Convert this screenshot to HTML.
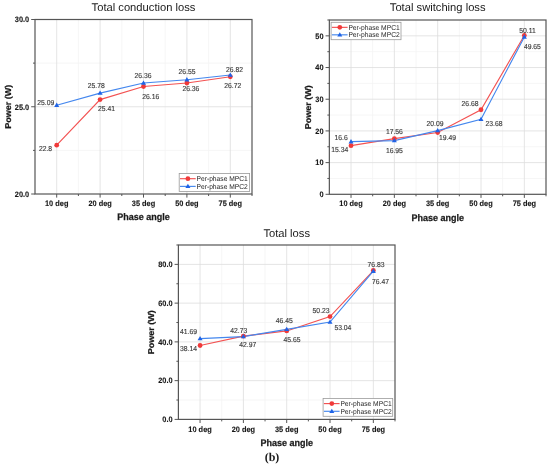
<!DOCTYPE html>
<html><head><meta charset="utf-8"><style>
html,body{margin:0;padding:0;background:#fff;}
body{width:550px;height:467px;overflow:hidden;}
svg{display:block;filter:blur(0.5px);}
text{font-family:"Liberation Sans", sans-serif;text-rendering:geometricPrecision;}
.tk{font-size:7.4px;font-weight:bold;fill:#1a1a1a;stroke:#1a1a1a;stroke-width:0.12px;}
.ti{font-size:11.2px;fill:#1a1a1a;}
.at{font-size:9px;font-weight:bold;fill:#1a1a1a;stroke:#1a1a1a;stroke-width:0.25px;}
.at2{font-size:8.5px;font-weight:bold;fill:#1a1a1a;stroke:#1a1a1a;stroke-width:0.25px;}
.dl{font-size:6.8px;fill:#383838;stroke:#383838;stroke-width:0.12px;}
.lg{font-size:6.7px;fill:#262626;}
.bb{font-family:"Liberation Serif", serif;font-size:12px;font-weight:bold;fill:#1a1a1a;}
</style></head><body>
<svg width="550" height="467" viewBox="0 0 550 467">
<rect width="550" height="467" fill="#fff"/>
<line x1="35" x2="252" y1="150.38" y2="150.38" stroke="#f4f4f4" stroke-width="0.8"/>
<line x1="35" x2="252" y1="63.12" y2="63.12" stroke="#f4f4f4" stroke-width="0.8"/>
<line x1="78.4" x2="78.4" y1="19.5" y2="194" stroke="#f4f4f4" stroke-width="0.8"/>
<line x1="121.8" x2="121.8" y1="19.5" y2="194" stroke="#f4f4f4" stroke-width="0.8"/>
<line x1="165.2" x2="165.2" y1="19.5" y2="194" stroke="#f4f4f4" stroke-width="0.8"/>
<line x1="208.6" x2="208.6" y1="19.5" y2="194" stroke="#f4f4f4" stroke-width="0.8"/>
<line x1="35" x2="252" y1="106.75" y2="106.75" stroke="#dddddd" stroke-width="0.8"/>
<line x1="56.7" x2="56.7" y1="19.5" y2="194" stroke="#dddddd" stroke-width="0.8"/>
<line x1="100.1" x2="100.1" y1="19.5" y2="194" stroke="#dddddd" stroke-width="0.8"/>
<line x1="143.5" x2="143.5" y1="19.5" y2="194" stroke="#dddddd" stroke-width="0.8"/>
<line x1="186.9" x2="186.9" y1="19.5" y2="194" stroke="#dddddd" stroke-width="0.8"/>
<line x1="230.3" x2="230.3" y1="19.5" y2="194" stroke="#dddddd" stroke-width="0.8"/>
<rect x="35" y="19.5" width="217" height="174.5" fill="none" stroke="#555555" stroke-width="1.2"/>
<line x1="31.2" x2="35" y1="194" y2="194" stroke="#555555" stroke-width="1"/>
<text x="29.2" y="196.6" text-anchor="end" class="tk" transform="matrix(1 0 0 1.06 0 -11.64)">20.0</text>
<line x1="31.2" x2="35" y1="106.75" y2="106.75" stroke="#555555" stroke-width="1"/>
<text x="29.2" y="109.35" text-anchor="end" class="tk" transform="matrix(1 0 0 1.06 0 -6.4)">25.0</text>
<line x1="31.2" x2="35" y1="19.5" y2="19.5" stroke="#555555" stroke-width="1"/>
<text x="29.2" y="22.1" text-anchor="end" class="tk" transform="matrix(1 0 0 1.06 0 -1.17)">30.0</text>
<line x1="33" x2="35" y1="150.38" y2="150.38" stroke="#555555" stroke-width="1"/>
<line x1="33" x2="35" y1="63.12" y2="63.12" stroke="#555555" stroke-width="1"/>
<line x1="56.7" x2="56.7" y1="194" y2="197.6" stroke="#555555" stroke-width="1"/>
<text x="56.7" y="206" text-anchor="middle" class="tk" transform="matrix(1 0 0 1.06 0 -12.2)">10 deg</text>
<line x1="100.1" x2="100.1" y1="194" y2="197.6" stroke="#555555" stroke-width="1"/>
<text x="100.1" y="206" text-anchor="middle" class="tk" transform="matrix(1 0 0 1.06 0 -12.2)">20 deg</text>
<line x1="143.5" x2="143.5" y1="194" y2="197.6" stroke="#555555" stroke-width="1"/>
<text x="143.5" y="206" text-anchor="middle" class="tk" transform="matrix(1 0 0 1.06 0 -12.2)">35 deg</text>
<line x1="186.9" x2="186.9" y1="194" y2="197.6" stroke="#555555" stroke-width="1"/>
<text x="186.9" y="206" text-anchor="middle" class="tk" transform="matrix(1 0 0 1.06 0 -12.2)">50 deg</text>
<line x1="230.3" x2="230.3" y1="194" y2="197.6" stroke="#555555" stroke-width="1"/>
<text x="230.3" y="206" text-anchor="middle" class="tk" transform="matrix(1 0 0 1.06 0 -12.2)">75 deg</text>
<line x1="78.4" x2="78.4" y1="194" y2="196" stroke="#555555" stroke-width="1"/>
<line x1="121.8" x2="121.8" y1="194" y2="196" stroke="#555555" stroke-width="1"/>
<line x1="165.2" x2="165.2" y1="194" y2="196" stroke="#555555" stroke-width="1"/>
<line x1="208.6" x2="208.6" y1="194" y2="196" stroke="#555555" stroke-width="1"/>
<line x1="252" x2="252" y1="194" y2="196" stroke="#555555" stroke-width="1"/>
<text x="143.5" y="11.3" text-anchor="middle" class="ti">Total conduction loss</text>
<text x="143.5" y="220.2" text-anchor="middle" class="at" transform="matrix(1 0 0 1.06 0 -13.02)">Phase angle</text>
<text transform="translate(10.65,106.75) scale(1,1.06) rotate(-90)" x="0" y="0" text-anchor="middle" class="at2">Power (W)</text>
<polyline points="56.7,145.14 100.1,99.6 143.5,86.51 186.9,83.02 230.3,76.74" fill="none" stroke="#f35252" stroke-width="1.15"/>
<polyline points="56.7,105.18 100.1,93.14 143.5,83.02 186.9,79.7 230.3,74.99" fill="none" stroke="#4487ee" stroke-width="1.15"/>
<circle cx="56.7" cy="145.14" r="2.4" fill="#f03a3a"/>
<circle cx="100.1" cy="99.6" r="2.4" fill="#f03a3a"/>
<circle cx="143.5" cy="86.51" r="2.4" fill="#f03a3a"/>
<circle cx="186.9" cy="83.02" r="2.4" fill="#f03a3a"/>
<circle cx="230.3" cy="76.74" r="2.4" fill="#f03a3a"/>
<path d="M56.7,102.58 L59.2,106.88 L54.2,106.88 Z" fill="#1f63e6"/>
<path d="M100.1,90.54 L102.6,94.84 L97.6,94.84 Z" fill="#1f63e6"/>
<path d="M143.5,80.42 L146,84.72 L141,84.72 Z" fill="#1f63e6"/>
<path d="M186.9,77.1 L189.4,81.4 L184.4,81.4 Z" fill="#1f63e6"/>
<path d="M230.3,72.39 L232.8,76.69 L227.8,76.69 Z" fill="#1f63e6"/>
<text x="45.8" y="105.3" text-anchor="middle" class="dl" transform="matrix(1 0 0 1.06 0 -6.17)">25.09</text>
<text x="45.5" y="150.6" text-anchor="middle" class="dl" transform="matrix(1 0 0 1.06 0 -8.89)">22.8</text>
<text x="96.3" y="88.2" text-anchor="middle" class="dl" transform="matrix(1 0 0 1.06 0 -5.15)">25.78</text>
<text x="106.5" y="111.3" text-anchor="middle" class="dl" transform="matrix(1 0 0 1.06 0 -6.53)">25.41</text>
<text x="143" y="77.8" text-anchor="middle" class="dl" transform="matrix(1 0 0 1.06 0 -4.52)">26.36</text>
<text x="150.7" y="98.6" text-anchor="middle" class="dl" transform="matrix(1 0 0 1.06 0 -5.77)">26.16</text>
<text x="187.1" y="74.2" text-anchor="middle" class="dl" transform="matrix(1 0 0 1.06 0 -4.31)">26.55</text>
<text x="190.9" y="91.2" text-anchor="middle" class="dl" transform="matrix(1 0 0 1.06 0 -5.33)">26.36</text>
<text x="234.6" y="71.9" text-anchor="middle" class="dl" transform="matrix(1 0 0 1.06 0 -4.17)">26.82</text>
<text x="232.8" y="87.7" text-anchor="middle" class="dl" transform="matrix(1 0 0 1.06 0 -5.12)">26.72</text>
<rect x="179.2" y="173.5" width="70.4" height="17.9" fill="#fff" stroke="#9a9a9a" stroke-width="0.8"/>
<line x1="180" x2="195.7" y1="178.69" y2="178.69" stroke="#f35252" stroke-width="1.15"/>
<circle cx="187.9" cy="178.69" r="2.4" fill="#f03a3a"/>
<text x="196.5" y="180.99" class="lg" transform="matrix(1 0 0 1.06 0 -10.71)">Per-phase MPC1</text>
<line x1="180" x2="195.7" y1="186.39" y2="186.39" stroke="#4487ee" stroke-width="1.15"/>
<path d="M187.9,183.79 L190.4,188.09 L185.4,188.09 Z" fill="#1f63e6"/>
<text x="196.5" y="188.69" class="lg" transform="matrix(1 0 0 1.06 0 -11.18)">Per-phase MPC2</text>
<line x1="329.35" x2="546" y1="178.45" y2="178.45" stroke="#f4f4f4" stroke-width="0.8"/>
<line x1="329.35" x2="546" y1="146.76" y2="146.76" stroke="#f4f4f4" stroke-width="0.8"/>
<line x1="329.35" x2="546" y1="115.07" y2="115.07" stroke="#f4f4f4" stroke-width="0.8"/>
<line x1="329.35" x2="546" y1="83.38" y2="83.38" stroke="#f4f4f4" stroke-width="0.8"/>
<line x1="329.35" x2="546" y1="51.69" y2="51.69" stroke="#f4f4f4" stroke-width="0.8"/>
<line x1="372.68" x2="372.68" y1="20" y2="194.3" stroke="#f4f4f4" stroke-width="0.8"/>
<line x1="416.01" x2="416.01" y1="20" y2="194.3" stroke="#f4f4f4" stroke-width="0.8"/>
<line x1="459.34" x2="459.34" y1="20" y2="194.3" stroke="#f4f4f4" stroke-width="0.8"/>
<line x1="502.67" x2="502.67" y1="20" y2="194.3" stroke="#f4f4f4" stroke-width="0.8"/>
<line x1="329.35" x2="546" y1="162.61" y2="162.61" stroke="#dddddd" stroke-width="0.8"/>
<line x1="329.35" x2="546" y1="130.92" y2="130.92" stroke="#dddddd" stroke-width="0.8"/>
<line x1="329.35" x2="546" y1="99.23" y2="99.23" stroke="#dddddd" stroke-width="0.8"/>
<line x1="329.35" x2="546" y1="67.54" y2="67.54" stroke="#dddddd" stroke-width="0.8"/>
<line x1="329.35" x2="546" y1="35.85" y2="35.85" stroke="#dddddd" stroke-width="0.8"/>
<line x1="351.02" x2="351.02" y1="20" y2="194.3" stroke="#dddddd" stroke-width="0.8"/>
<line x1="394.35" x2="394.35" y1="20" y2="194.3" stroke="#dddddd" stroke-width="0.8"/>
<line x1="437.68" x2="437.68" y1="20" y2="194.3" stroke="#dddddd" stroke-width="0.8"/>
<line x1="481" x2="481" y1="20" y2="194.3" stroke="#dddddd" stroke-width="0.8"/>
<line x1="524.34" x2="524.34" y1="20" y2="194.3" stroke="#dddddd" stroke-width="0.8"/>
<rect x="329.35" y="20" width="216.65" height="174.3" fill="none" stroke="#555555" stroke-width="1.2"/>
<line x1="325.55" x2="329.35" y1="194.3" y2="194.3" stroke="#555555" stroke-width="1"/>
<text x="323.55" y="196.9" text-anchor="end" class="tk" transform="matrix(1 0 0 1.06 0 -11.65)">0</text>
<line x1="325.55" x2="329.35" y1="162.61" y2="162.61" stroke="#555555" stroke-width="1"/>
<text x="323.55" y="165.21" text-anchor="end" class="tk" transform="matrix(1 0 0 1.06 0 -9.75)">10</text>
<line x1="325.55" x2="329.35" y1="130.92" y2="130.92" stroke="#555555" stroke-width="1"/>
<text x="323.55" y="133.52" text-anchor="end" class="tk" transform="matrix(1 0 0 1.06 0 -7.85)">20</text>
<line x1="325.55" x2="329.35" y1="99.23" y2="99.23" stroke="#555555" stroke-width="1"/>
<text x="323.55" y="101.83" text-anchor="end" class="tk" transform="matrix(1 0 0 1.06 0 -5.95)">30</text>
<line x1="325.55" x2="329.35" y1="67.54" y2="67.54" stroke="#555555" stroke-width="1"/>
<text x="323.55" y="70.14" text-anchor="end" class="tk" transform="matrix(1 0 0 1.06 0 -4.05)">40</text>
<line x1="325.55" x2="329.35" y1="35.85" y2="35.85" stroke="#555555" stroke-width="1"/>
<text x="323.55" y="38.45" text-anchor="end" class="tk" transform="matrix(1 0 0 1.06 0 -2.15)">50</text>
<line x1="327.35" x2="329.35" y1="178.45" y2="178.45" stroke="#555555" stroke-width="1"/>
<line x1="327.35" x2="329.35" y1="146.76" y2="146.76" stroke="#555555" stroke-width="1"/>
<line x1="327.35" x2="329.35" y1="115.07" y2="115.07" stroke="#555555" stroke-width="1"/>
<line x1="327.35" x2="329.35" y1="83.38" y2="83.38" stroke="#555555" stroke-width="1"/>
<line x1="327.35" x2="329.35" y1="51.69" y2="51.69" stroke="#555555" stroke-width="1"/>
<line x1="327.35" x2="329.35" y1="20" y2="20" stroke="#555555" stroke-width="1"/>
<line x1="351.02" x2="351.02" y1="194.3" y2="197.9" stroke="#555555" stroke-width="1"/>
<text x="351.02" y="206.3" text-anchor="middle" class="tk" transform="matrix(1 0 0 1.06 0 -12.22)">10 deg</text>
<line x1="394.35" x2="394.35" y1="194.3" y2="197.9" stroke="#555555" stroke-width="1"/>
<text x="394.35" y="206.3" text-anchor="middle" class="tk" transform="matrix(1 0 0 1.06 0 -12.22)">20 deg</text>
<line x1="437.68" x2="437.68" y1="194.3" y2="197.9" stroke="#555555" stroke-width="1"/>
<text x="437.68" y="206.3" text-anchor="middle" class="tk" transform="matrix(1 0 0 1.06 0 -12.22)">35 deg</text>
<line x1="481" x2="481" y1="194.3" y2="197.9" stroke="#555555" stroke-width="1"/>
<text x="481" y="206.3" text-anchor="middle" class="tk" transform="matrix(1 0 0 1.06 0 -12.22)">50 deg</text>
<line x1="524.34" x2="524.34" y1="194.3" y2="197.9" stroke="#555555" stroke-width="1"/>
<text x="524.34" y="206.3" text-anchor="middle" class="tk" transform="matrix(1 0 0 1.06 0 -12.22)">75 deg</text>
<line x1="372.68" x2="372.68" y1="194.3" y2="196.3" stroke="#555555" stroke-width="1"/>
<line x1="416.01" x2="416.01" y1="194.3" y2="196.3" stroke="#555555" stroke-width="1"/>
<line x1="459.34" x2="459.34" y1="194.3" y2="196.3" stroke="#555555" stroke-width="1"/>
<line x1="502.67" x2="502.67" y1="194.3" y2="196.3" stroke="#555555" stroke-width="1"/>
<line x1="546" x2="546" y1="194.3" y2="196.3" stroke="#555555" stroke-width="1"/>
<text x="437.68" y="11.3" text-anchor="middle" class="ti">Total switching loss</text>
<text x="437.68" y="220.5" text-anchor="middle" class="at" transform="matrix(1 0 0 1.06 0 -13.04)">Phase angle</text>
<text transform="translate(311.3,107.15) scale(1,1.06) rotate(-90)" x="0" y="0" text-anchor="middle" class="at2">Power (W)</text>
<polyline points="351.02,145.69 394.35,138.65 437.68,132.53 481,109.75 524.34,35.5" fill="none" stroke="#f35252" stroke-width="1.15"/>
<polyline points="351.02,141.69 394.35,140.58 437.68,130.63 481,119.26 524.34,36.95" fill="none" stroke="#4487ee" stroke-width="1.15"/>
<circle cx="351.02" cy="145.69" r="2.4" fill="#f03a3a"/>
<circle cx="394.35" cy="138.65" r="2.4" fill="#f03a3a"/>
<circle cx="437.68" cy="132.53" r="2.4" fill="#f03a3a"/>
<circle cx="481" cy="109.75" r="2.4" fill="#f03a3a"/>
<circle cx="524.34" cy="35.5" r="2.4" fill="#f03a3a"/>
<path d="M351.02,139.09 L353.52,143.39 L348.52,143.39 Z" fill="#1f63e6"/>
<path d="M394.35,137.98 L396.85,142.28 L391.85,142.28 Z" fill="#1f63e6"/>
<path d="M437.68,128.03 L440.18,132.33 L435.18,132.33 Z" fill="#1f63e6"/>
<path d="M481,116.66 L483.5,120.96 L478.5,120.96 Z" fill="#1f63e6"/>
<path d="M524.34,34.35 L526.84,38.65 L521.84,38.65 Z" fill="#1f63e6"/>
<text x="341.1" y="140.1" text-anchor="middle" class="dl" transform="matrix(1 0 0 1.06 0 -8.26)">16.6</text>
<text x="339.7" y="151.9" text-anchor="middle" class="dl" transform="matrix(1 0 0 1.06 0 -8.97)">15.34</text>
<text x="394.4" y="134.2" text-anchor="middle" class="dl" transform="matrix(1 0 0 1.06 0 -7.91)">17.56</text>
<text x="394.4" y="152.4" text-anchor="middle" class="dl" transform="matrix(1 0 0 1.06 0 -9)">16.95</text>
<text x="435" y="125.9" text-anchor="middle" class="dl" transform="matrix(1 0 0 1.06 0 -7.41)">20.09</text>
<text x="447.6" y="139.4" text-anchor="middle" class="dl" transform="matrix(1 0 0 1.06 0 -8.22)">19.49</text>
<text x="470.1" y="105.7" text-anchor="middle" class="dl" transform="matrix(1 0 0 1.06 0 -6.2)">26.68</text>
<text x="494" y="125.7" text-anchor="middle" class="dl" transform="matrix(1 0 0 1.06 0 -7.4)">23.68</text>
<text x="527.5" y="32.4" text-anchor="middle" class="dl" transform="matrix(1 0 0 1.06 0 -1.8)">50.11</text>
<text x="532.4" y="49.1" text-anchor="middle" class="dl" transform="matrix(1 0 0 1.06 0 -2.8)">49.65</text>
<rect x="331.1" y="22.3" width="69.9" height="17.4" fill="#fff" stroke="#9a9a9a" stroke-width="0.8"/>
<line x1="331.9" x2="347.6" y1="27.35" y2="27.35" stroke="#f35252" stroke-width="1.15"/>
<circle cx="339.8" cy="27.35" r="2.4" fill="#f03a3a"/>
<text x="348.4" y="29.65" class="lg" transform="matrix(1 0 0 1.06 0 -1.63)">Per-phase MPC1</text>
<line x1="331.9" x2="347.6" y1="34.83" y2="34.83" stroke="#4487ee" stroke-width="1.15"/>
<path d="M339.8,32.23 L342.3,36.53 L337.3,36.53 Z" fill="#1f63e6"/>
<text x="348.4" y="37.13" class="lg" transform="matrix(1 0 0 1.06 0 -2.08)">Per-phase MPC2</text>
<line x1="178.4" x2="395" y1="400.02" y2="400.02" stroke="#f4f4f4" stroke-width="0.8"/>
<line x1="178.4" x2="395" y1="361.27" y2="361.27" stroke="#f4f4f4" stroke-width="0.8"/>
<line x1="178.4" x2="395" y1="322.51" y2="322.51" stroke="#f4f4f4" stroke-width="0.8"/>
<line x1="178.4" x2="395" y1="283.76" y2="283.76" stroke="#f4f4f4" stroke-width="0.8"/>
<line x1="221.72" x2="221.72" y1="245" y2="419.4" stroke="#f4f4f4" stroke-width="0.8"/>
<line x1="265.04" x2="265.04" y1="245" y2="419.4" stroke="#f4f4f4" stroke-width="0.8"/>
<line x1="308.36" x2="308.36" y1="245" y2="419.4" stroke="#f4f4f4" stroke-width="0.8"/>
<line x1="351.68" x2="351.68" y1="245" y2="419.4" stroke="#f4f4f4" stroke-width="0.8"/>
<line x1="178.4" x2="395" y1="380.64" y2="380.64" stroke="#dddddd" stroke-width="0.8"/>
<line x1="178.4" x2="395" y1="341.89" y2="341.89" stroke="#dddddd" stroke-width="0.8"/>
<line x1="178.4" x2="395" y1="303.13" y2="303.13" stroke="#dddddd" stroke-width="0.8"/>
<line x1="178.4" x2="395" y1="264.38" y2="264.38" stroke="#dddddd" stroke-width="0.8"/>
<line x1="200.06" x2="200.06" y1="245" y2="419.4" stroke="#dddddd" stroke-width="0.8"/>
<line x1="243.38" x2="243.38" y1="245" y2="419.4" stroke="#dddddd" stroke-width="0.8"/>
<line x1="286.7" x2="286.7" y1="245" y2="419.4" stroke="#dddddd" stroke-width="0.8"/>
<line x1="330.02" x2="330.02" y1="245" y2="419.4" stroke="#dddddd" stroke-width="0.8"/>
<line x1="373.34" x2="373.34" y1="245" y2="419.4" stroke="#dddddd" stroke-width="0.8"/>
<rect x="178.4" y="245" width="216.6" height="174.4" fill="none" stroke="#555555" stroke-width="1.2"/>
<line x1="174.6" x2="178.4" y1="419.4" y2="419.4" stroke="#555555" stroke-width="1"/>
<text x="172.6" y="422" text-anchor="end" class="tk" transform="matrix(1 0 0 1.06 0 -25.16)">0.0</text>
<line x1="174.6" x2="178.4" y1="380.64" y2="380.64" stroke="#555555" stroke-width="1"/>
<text x="172.6" y="383.24" text-anchor="end" class="tk" transform="matrix(1 0 0 1.06 0 -22.83)">20.0</text>
<line x1="174.6" x2="178.4" y1="341.89" y2="341.89" stroke="#555555" stroke-width="1"/>
<text x="172.6" y="344.49" text-anchor="end" class="tk" transform="matrix(1 0 0 1.06 0 -20.51)">40.0</text>
<line x1="174.6" x2="178.4" y1="303.13" y2="303.13" stroke="#555555" stroke-width="1"/>
<text x="172.6" y="305.73" text-anchor="end" class="tk" transform="matrix(1 0 0 1.06 0 -18.18)">60.0</text>
<line x1="174.6" x2="178.4" y1="264.38" y2="264.38" stroke="#555555" stroke-width="1"/>
<text x="172.6" y="266.98" text-anchor="end" class="tk" transform="matrix(1 0 0 1.06 0 -15.86)">80.0</text>
<line x1="176.4" x2="178.4" y1="400.02" y2="400.02" stroke="#555555" stroke-width="1"/>
<line x1="176.4" x2="178.4" y1="361.27" y2="361.27" stroke="#555555" stroke-width="1"/>
<line x1="176.4" x2="178.4" y1="322.51" y2="322.51" stroke="#555555" stroke-width="1"/>
<line x1="176.4" x2="178.4" y1="283.76" y2="283.76" stroke="#555555" stroke-width="1"/>
<line x1="176.4" x2="178.4" y1="245" y2="245" stroke="#555555" stroke-width="1"/>
<line x1="200.06" x2="200.06" y1="419.4" y2="423" stroke="#555555" stroke-width="1"/>
<text x="200.06" y="431.4" text-anchor="middle" class="tk" transform="matrix(1 0 0 1.06 0 -25.72)">10 deg</text>
<line x1="243.38" x2="243.38" y1="419.4" y2="423" stroke="#555555" stroke-width="1"/>
<text x="243.38" y="431.4" text-anchor="middle" class="tk" transform="matrix(1 0 0 1.06 0 -25.72)">20 deg</text>
<line x1="286.7" x2="286.7" y1="419.4" y2="423" stroke="#555555" stroke-width="1"/>
<text x="286.7" y="431.4" text-anchor="middle" class="tk" transform="matrix(1 0 0 1.06 0 -25.72)">35 deg</text>
<line x1="330.02" x2="330.02" y1="419.4" y2="423" stroke="#555555" stroke-width="1"/>
<text x="330.02" y="431.4" text-anchor="middle" class="tk" transform="matrix(1 0 0 1.06 0 -25.72)">50 deg</text>
<line x1="373.34" x2="373.34" y1="419.4" y2="423" stroke="#555555" stroke-width="1"/>
<text x="373.34" y="431.4" text-anchor="middle" class="tk" transform="matrix(1 0 0 1.06 0 -25.72)">75 deg</text>
<line x1="221.72" x2="221.72" y1="419.4" y2="421.4" stroke="#555555" stroke-width="1"/>
<line x1="265.04" x2="265.04" y1="419.4" y2="421.4" stroke="#555555" stroke-width="1"/>
<line x1="308.36" x2="308.36" y1="419.4" y2="421.4" stroke="#555555" stroke-width="1"/>
<line x1="351.68" x2="351.68" y1="419.4" y2="421.4" stroke="#555555" stroke-width="1"/>
<line x1="395" x2="395" y1="419.4" y2="421.4" stroke="#555555" stroke-width="1"/>
<text x="286.7" y="236.9" text-anchor="middle" class="ti">Total loss</text>
<text x="286.7" y="445.6" text-anchor="middle" class="at" transform="matrix(1 0 0 1.06 0 -26.54)">Phase angle</text>
<text transform="translate(154.1,332.2) scale(1,1.06) rotate(-90)" x="0" y="0" text-anchor="middle" class="at2">Power (W)</text>
<polyline points="200.06,345.49 243.38,336.13 286.7,330.94 330.02,316.62 373.34,270.52" fill="none" stroke="#f35252" stroke-width="1.15"/>
<polyline points="200.06,338.61 243.38,336.6 286.7,329.39 330.02,322.07 373.34,271.22" fill="none" stroke="#4487ee" stroke-width="1.15"/>
<circle cx="200.06" cy="345.49" r="2.4" fill="#f03a3a"/>
<circle cx="243.38" cy="336.13" r="2.4" fill="#f03a3a"/>
<circle cx="286.7" cy="330.94" r="2.4" fill="#f03a3a"/>
<circle cx="330.02" cy="316.62" r="2.4" fill="#f03a3a"/>
<circle cx="373.34" cy="270.52" r="2.4" fill="#f03a3a"/>
<path d="M200.06,336.01 L202.56,340.31 L197.56,340.31 Z" fill="#1f63e6"/>
<path d="M243.38,334 L245.88,338.3 L240.88,338.3 Z" fill="#1f63e6"/>
<path d="M286.7,326.79 L289.2,331.09 L284.2,331.09 Z" fill="#1f63e6"/>
<path d="M330.02,319.47 L332.52,323.77 L327.52,323.77 Z" fill="#1f63e6"/>
<path d="M373.34,268.62 L375.84,272.92 L370.84,272.92 Z" fill="#1f63e6"/>
<text x="188.6" y="334.2" text-anchor="middle" class="dl" transform="matrix(1 0 0 1.06 0 -19.91)">41.69</text>
<text x="188.6" y="351.2" text-anchor="middle" class="dl" transform="matrix(1 0 0 1.06 0 -20.93)">38.14</text>
<text x="238.8" y="332.4" text-anchor="middle" class="dl" transform="matrix(1 0 0 1.06 0 -19.8)">42.73</text>
<text x="247.8" y="346.9" text-anchor="middle" class="dl" transform="matrix(1 0 0 1.06 0 -20.67)">42.97</text>
<text x="284.2" y="322.9" text-anchor="middle" class="dl" transform="matrix(1 0 0 1.06 0 -19.23)">46.45</text>
<text x="292" y="342.1" text-anchor="middle" class="dl" transform="matrix(1 0 0 1.06 0 -20.38)">45.65</text>
<text x="321.1" y="312.5" text-anchor="middle" class="dl" transform="matrix(1 0 0 1.06 0 -18.6)">50.23</text>
<text x="342.9" y="329.9" text-anchor="middle" class="dl" transform="matrix(1 0 0 1.06 0 -19.65)">53.04</text>
<text x="376.1" y="266.9" text-anchor="middle" class="dl" transform="matrix(1 0 0 1.06 0 -15.87)">76.83</text>
<text x="380.5" y="283.9" text-anchor="middle" class="dl" transform="matrix(1 0 0 1.06 0 -16.89)">76.47</text>
<rect x="323.1" y="398.4" width="69.6" height="17.9" fill="#fff" stroke="#9a9a9a" stroke-width="0.8"/>
<line x1="323.9" x2="339.6" y1="403.59" y2="403.59" stroke="#f35252" stroke-width="1.15"/>
<circle cx="331.8" cy="403.59" r="2.4" fill="#f03a3a"/>
<text x="340.4" y="405.89" class="lg" transform="matrix(1 0 0 1.06 0 -24.21)">Per-phase MPC1</text>
<line x1="323.9" x2="339.6" y1="411.29" y2="411.29" stroke="#4487ee" stroke-width="1.15"/>
<path d="M331.8,408.69 L334.3,412.99 L329.3,412.99 Z" fill="#1f63e6"/>
<text x="340.4" y="413.59" class="lg" transform="matrix(1 0 0 1.06 0 -24.67)">Per-phase MPC2</text>
<text x="272" y="461.2" text-anchor="middle" class="bb">(b)</text>
</svg>
</body></html>
